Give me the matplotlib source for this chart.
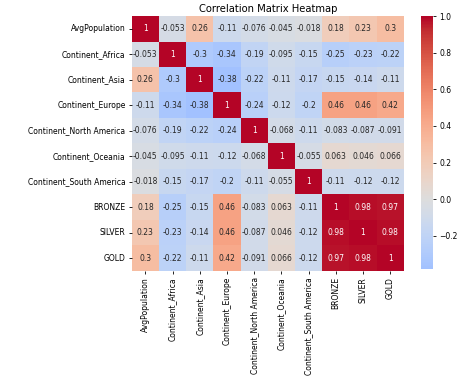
import numpy as np
import matplotlib
matplotlib.use("Agg")
import matplotlib.pyplot as plt
import seaborn as sns

labels = ["AvgPopulation", "Continent_Africa", "Continent_Asia", "Continent_Europe",
          "Continent_North America", "Continent_Oceania", "Continent_South America",
          "BRONZE", "SILVER", "GOLD"]

row_avgpop = [1, -0.053, 0.26, -0.11, -0.076, -0.045, -0.018, 0.18, 0.23, 0.3]
row_africa = [-0.053, 1, -0.3, -0.34, -0.19, -0.095, -0.15, -0.25, -0.23, -0.22]
row_asia = [0.26, -0.3, 1, -0.38, -0.22, -0.11, -0.17, -0.15, -0.14, -0.11]
row_europe = [-0.11, -0.34, -0.38, 1, -0.24, -0.12, -0.2, 0.46, 0.46, 0.42]
row_namerica = [-0.076, -0.19, -0.22, -0.24, 1, -0.068, -0.11, -0.083, -0.087, -0.091]
row_oceania = [-0.045, -0.095, -0.11, -0.12, -0.068, 1, -0.055, 0.063, 0.046, 0.066]
row_samerica = [-0.018, -0.15, -0.17, -0.2, -0.11, -0.055, 1, -0.11, -0.12, -0.12]
row_bronze = [0.18, -0.25, -0.15, 0.46, -0.083, 0.063, -0.11, 1, 0.98, 0.97]
row_silver = [0.23, -0.23, -0.14, 0.46, -0.087, 0.046, -0.12, 0.98, 1, 0.98]
row_gold = [0.3, -0.22, -0.11, 0.42, -0.091, 0.066, -0.12, 0.97, 0.98, 1]

corr = np.array([row_avgpop, row_africa, row_asia, row_europe, row_namerica,
                 row_oceania, row_samerica, row_bronze, row_silver, row_gold])

fig = plt.figure(figsize=(4.74, 3.82), dpi=100)
ax = fig.add_axes([0.278, 0.291, 0.574, 0.667])
cax = fig.add_axes([0.888, 0.296, 0.026, 0.662])

sns.heatmap(corr, annot=True, cmap="coolwarm", center=0, ax=ax, cbar_ax=cax,
            xticklabels=labels, yticklabels=labels,
            annot_kws={"fontsize": 5.5})
ax.set_title("Correlation Matrix Heatmap", fontsize=7.2, pad=3)
ax.tick_params(axis="both", labelsize=5.5, length=2.5, width=0.6, pad=2)
plt.setp(ax.get_xticklabels(), rotation=90)
plt.setp(ax.get_yticklabels(), rotation=0)
cax.tick_params(labelsize=5.5, length=2.5, width=0.6, pad=2)

fig.savefig("out.png", dpi=100)
